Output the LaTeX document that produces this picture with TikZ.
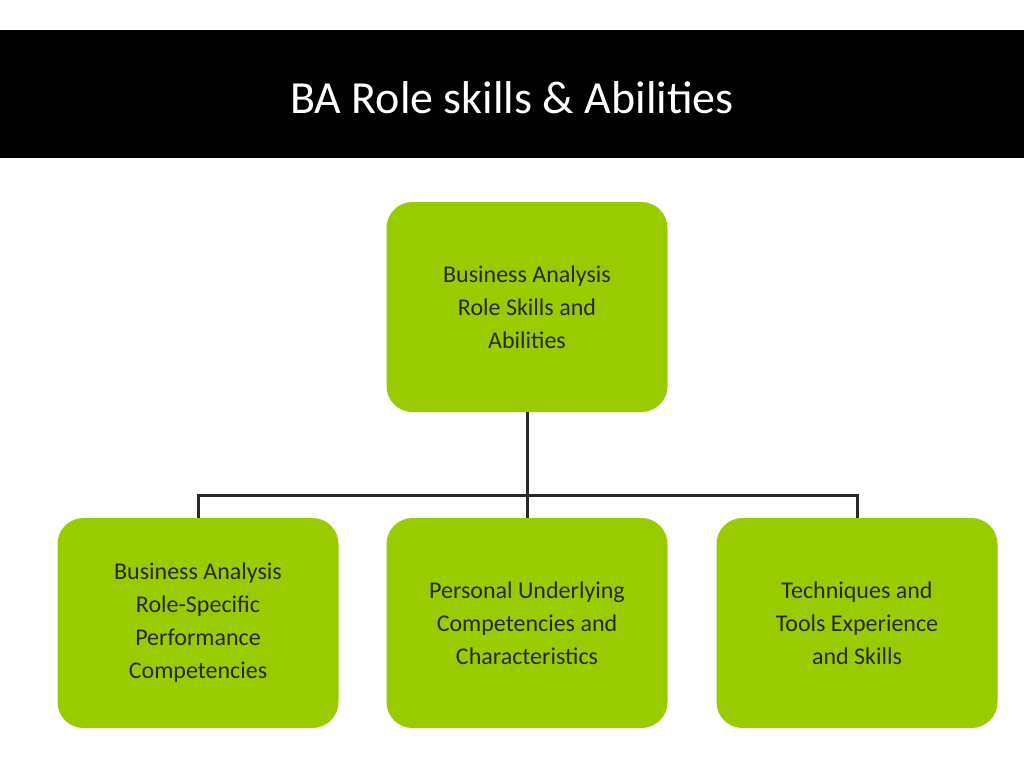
\documentclass[tikz,border=0pt]{standalone}
\usepackage{fontspec}
\setmainfont{Carlito}
\definecolor{leaf}{RGB}{153,204,0}
\definecolor{ink}{RGB}{40,40,40}
\tikzset{every picture/.style={line width=0.75pt}}
\tikzset{card/.style={draw=none,fill=leaf,rounded corners=26pt,minimum width=281pt,minimum height=210pt,align=center,text=ink,font=\fontsize{24}{33}\selectfont,inner sep=0pt},
wire/.style={draw=ink,line width=3pt}}
\begin{document}
\begin{tikzpicture}[x=1pt,y=1pt,yscale=-1,xscale=1]
\useasboundingbox (0,0) rectangle (1024,768);
\fill[white] (0,0) rectangle (1024,768);

%Shape: Title bar
\fill[black] (0,30) rectangle (1024,158);
% Text Node
\node (title) at (512,98) [text=white,font=\fontsize{46}{50}\selectfont] {BA Role skills \& Abilities};

%Shape: Cards
\node (root) at (527,307) [card] {Business Analysis\\Role Skills and\\Abilities};
\node (left) at (198,623) [card] {Business Analysis\\Role-Specific\\Performance\\Competencies};
\node (mid) at (527,623) [card] {Personal Underlying\\Competencies and\\Characteristics};
\node (right) at (857,623) [card] {Techniques and\\Tools Experience\\and Skills};

%Straight Lines
\coordinate (bus) at (527,495);
\draw[wire] (root.south) -- (bus);
\draw[wire] (left.north) -- (left.north |- bus) -- (right.north |- bus) -- (right.north);
\draw[wire] (bus) -- (mid.north);

\end{tikzpicture}
\end{document}
